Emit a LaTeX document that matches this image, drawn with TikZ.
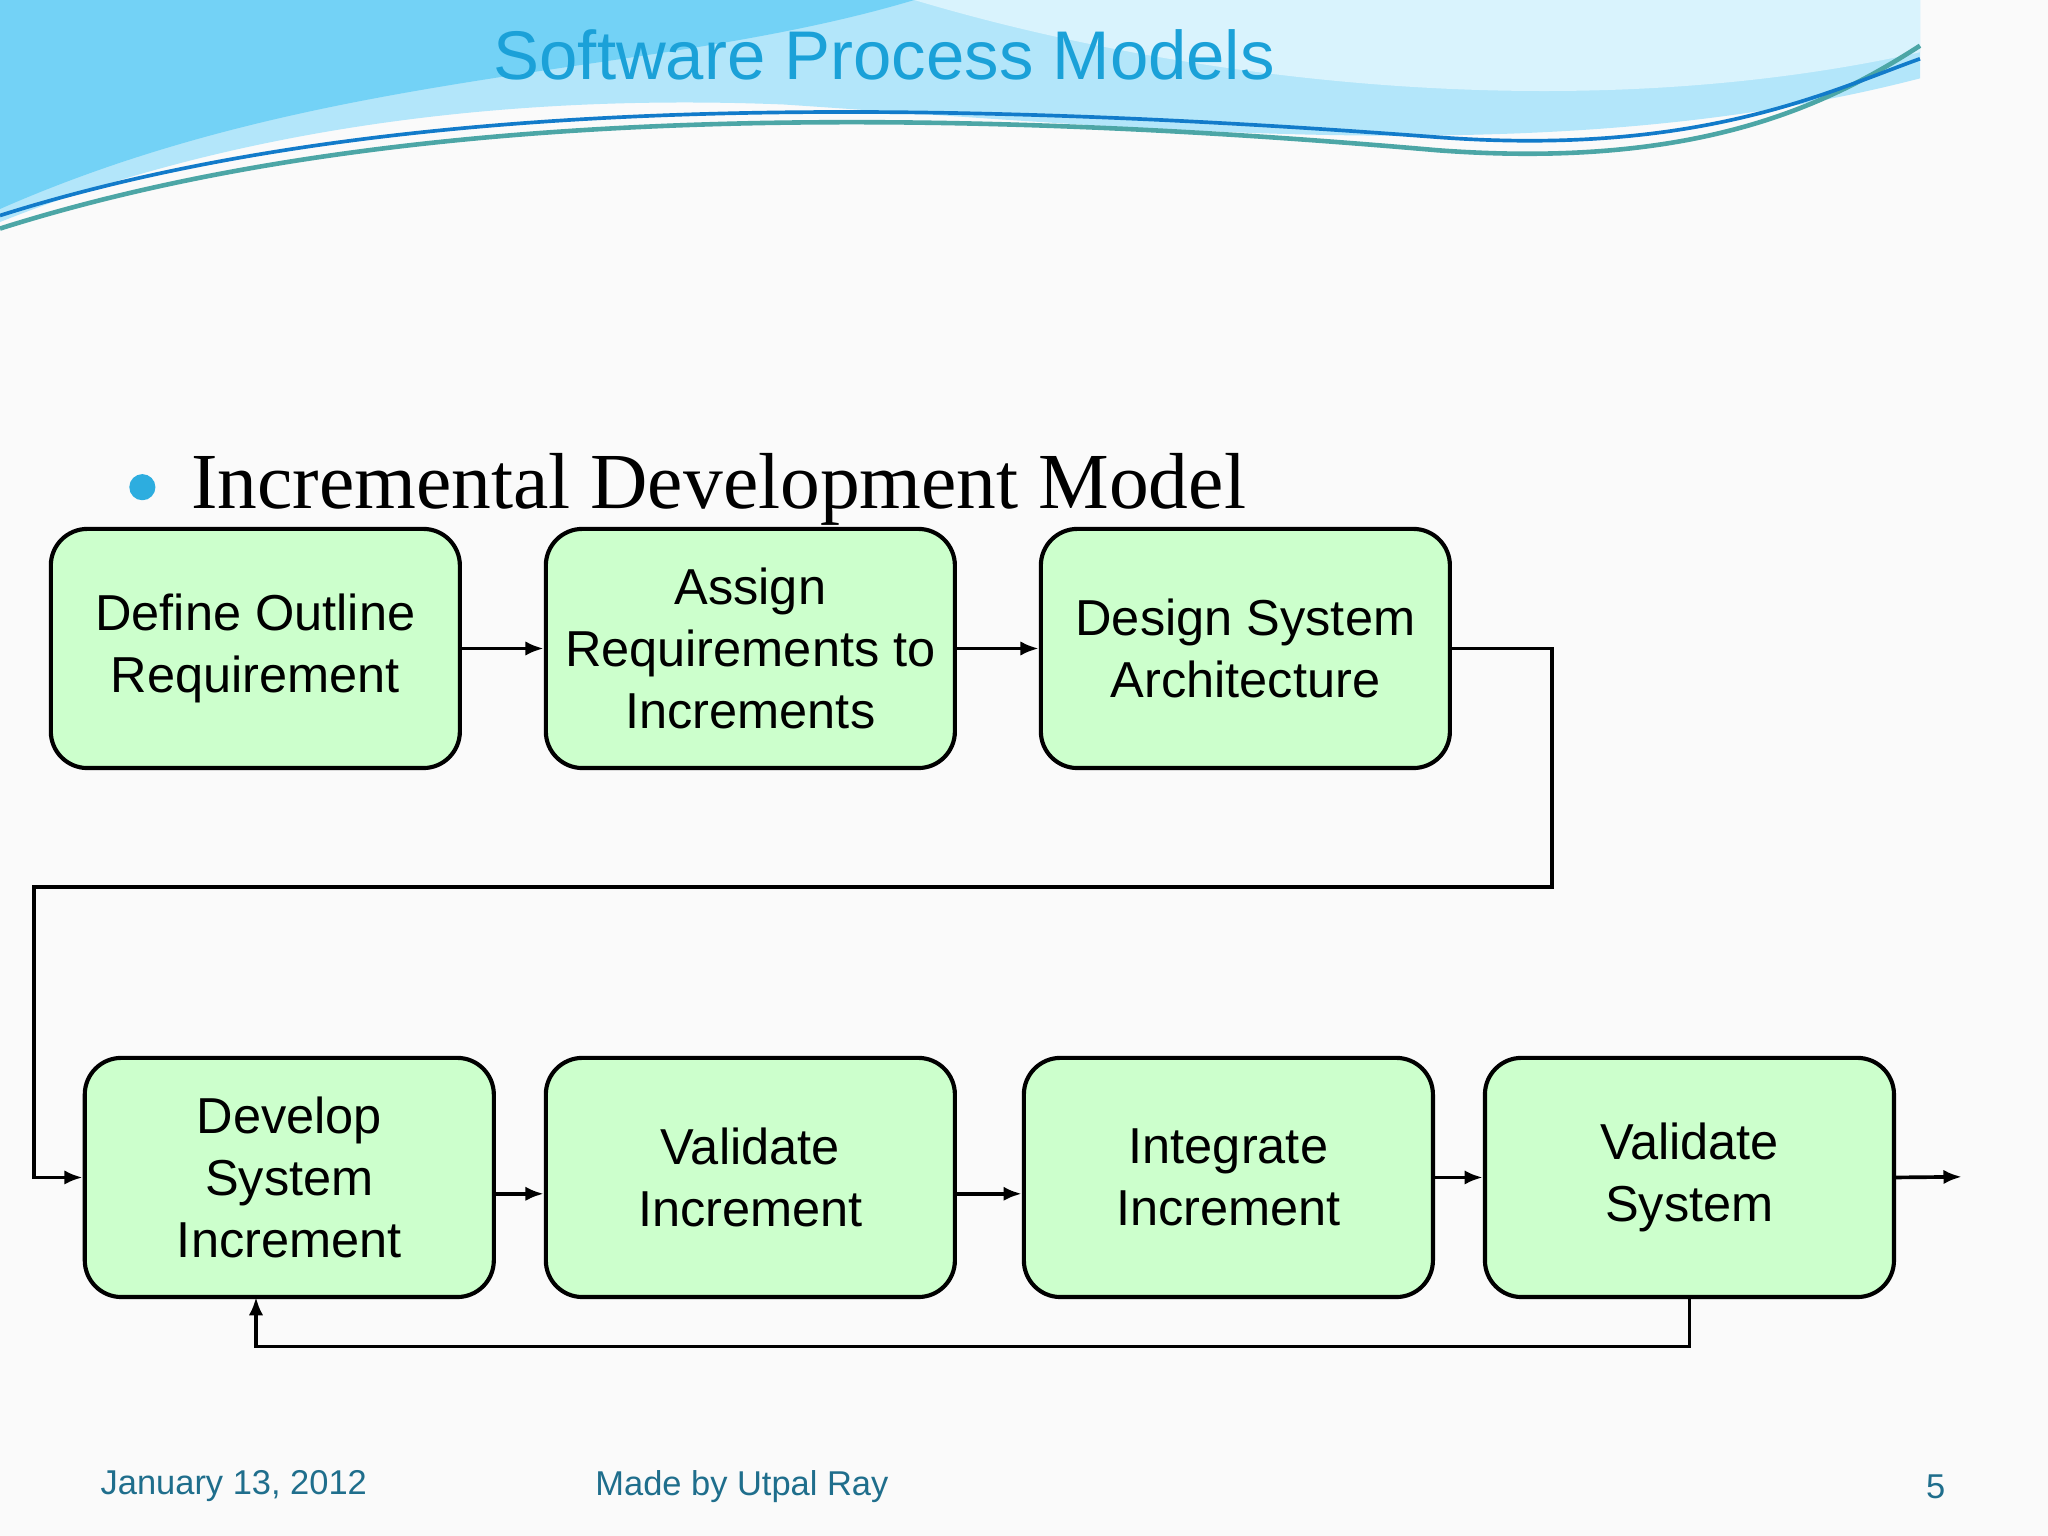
\documentclass[tikz,border=0pt]{standalone}
\usepackage{fontspec}
\setmainfont{Liberation Sans}
\newfontfamily\serif{Liberation Serif}
\usetikzlibrary{arrows.meta}
\definecolor{boxgreen}{HTML}{CCFFCC}
\definecolor{titleblue}{HTML}{1BA1D8}
\definecolor{foot}{HTML}{1F6E8C}
\tikzset{
  x=0.01cm,y=-0.01cm,
  stepbox/.style={draw=black,line width=0.9pt,fill=boxgreen,rounded corners=0.28cm,minimum width=3.13cm,minimum height=1.83cm,align=center,font=\fontsize{11pt}{13.4pt}\selectfont},
  conn/.style={line width=0.8pt,-{Latex[length=0.14cm,width=0.11cm]}},
}
\begin{document}
\begin{tikzpicture}
\useasboundingbox (0,0) rectangle (1568,1176);
\fill[white!96!gray] (0,0) rectangle (1568,1176);
% top swoosh
\fill[cyan!30] (0,0) -- (1470,0) -- (1470,60) .. controls (1200,130) and (900,100) .. (600,80) .. controls (350,70) and (150,110) .. (0,170) -- cycle;
\fill[cyan!55!white] (0,0) -- (700,0) .. controls (500,60) and (250,50) .. (0,160) -- cycle;
\fill[cyan!15] (700,0) .. controls (900,60) and (1200,100) .. (1470,40) -- (1470,0) -- cycle;
\draw[teal!70,line width=1pt] (0,175) .. controls (300,80) and (700,80) .. (1100,115) .. controls (1300,130) and (1400,80) .. (1470,35);
\draw[cyan!60!blue,line width=0.8pt] (0,165) .. controls (300,70) and (700,75) .. (1100,105) .. controls (1300,120) and (1400,70) .. (1470,45);
\node[font=\fontsize{15pt}{18pt}\selectfont,text=titleblue] (title) at (677,42) {Software Process Models};
% heading
\fill[cyan!80!teal!90!white] (109,373) circle (10);
\node[anchor=west,font=\serif\fontsize{17.3pt}{20pt}\selectfont] (head) at (134,375) {Incremental Development Model};
% boxes
\node[stepbox] (b1) at (195.5,496.5) {Define Outline\\Requirement};
\node[stepbox] (b2) at (574.5,496.5) {Assign\\Requirements to\\Increments};
\node[stepbox] (b3) at (953.5,496.5) {Design System\\Architecture};
\node[stepbox] (b4) at (221.5,901.5) {Develop\\System\\Increment};
\node[stepbox] (b5) at (574.5,901.5) {Validate\\Increment};
\node[stepbox] (b6) at (940.5,901.5) {Integrate\\Increment};
\node[stepbox] (b7) at (1293.5,901.5) {Validate\\System};
\coordinate (out) at (1502,901);
\draw[conn] (b1.east) -- (b2.west);
\draw[conn] (b2.east) -- (b3.west);
\draw[conn] (b3.east) -- (1188,496.5) -- (1188,679) -- (26,679) -- (26,901.5) -- (b4.west);
\draw[conn] (b4.east |- 0,914) -- (b5.west |- 0,914);
\draw[conn] (b5.east |- 0,914) -- (b6.west |- 0,914);
\draw[conn] (b6.east) -- (b7.west);
\draw[conn] (b7.east) -- (out);
\draw[conn] (b7.south) -- (1293.5,1031) -- (196,1031) -- (196,993);
% footer
\node[text=foot,font=\fontsize{7.5pt}{9pt}\selectfont] (f1) at (179,1138) {January 13, 2012};
\node[text=foot,font=\fontsize{7.5pt}{9pt}\selectfont] (f2) at (568,1138) {Made by Utpal Ray};
\node[text=foot,font=\fontsize{7.5pt}{9pt}\selectfont] (f3) at (1482,1138) {5};
\end{tikzpicture}
\end{document}
